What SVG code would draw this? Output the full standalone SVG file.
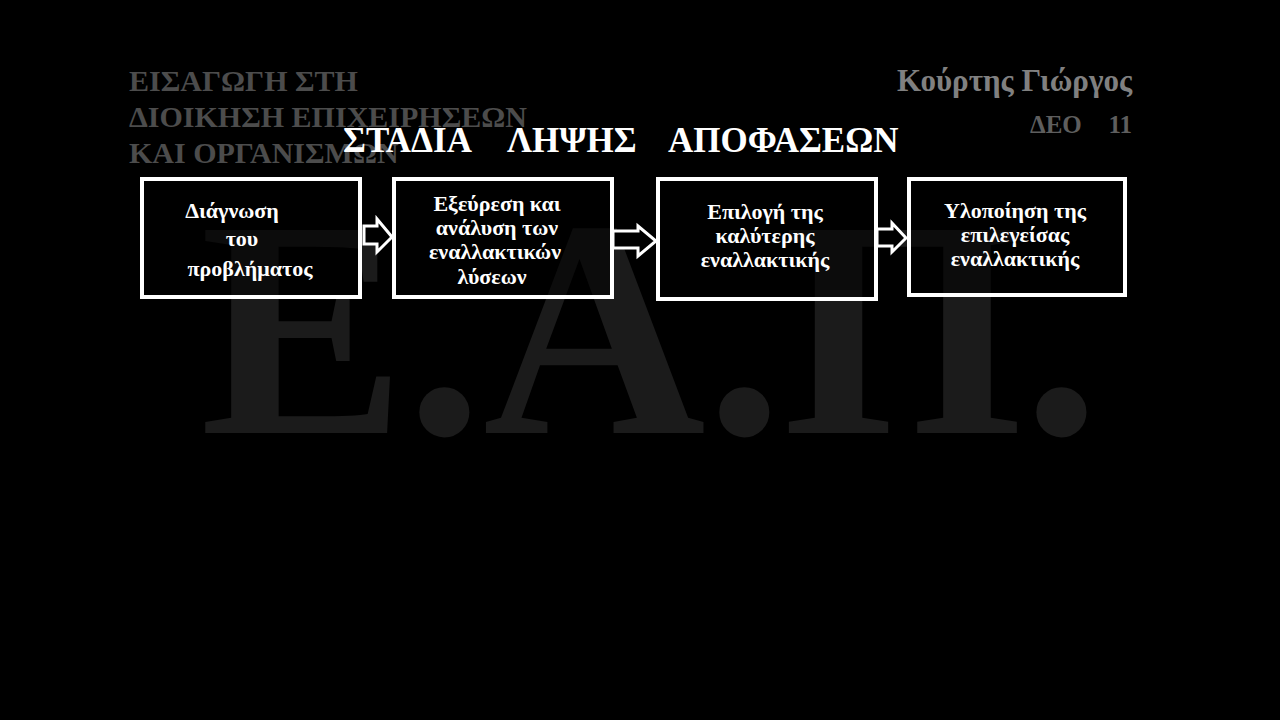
<svg xmlns="http://www.w3.org/2000/svg" width="1280" height="720" viewBox="0 0 1280 720">
<style>
.hdr{font-family:"Liberation Serif","Times New Roman",serif;font-weight:bold;fill:#4c4c4c;font-size:30px}
.auth{font-family:"Liberation Serif","Times New Roman",serif;font-weight:bold;fill:#808080}
.dim{fill:#5e5e5e}
.title{font-family:"Liberation Serif","Times New Roman",serif;font-weight:bold;fill:#ffffff;font-size:35px}
.box{fill:#000;fill-opacity:0.55;stroke:#fff;stroke-width:4}
.lbl{font-family:"Liberation Serif","Times New Roman",serif;font-weight:bold;fill:#fff;font-size:22px;text-anchor:middle}
.arr{fill:#000;stroke:#fff;stroke-width:3;stroke-linejoin:miter}
.wm{font-family:"Liberation Serif","Times New Roman",serif;font-weight:bold;fill:#1b1b1b;font-size:310px}
</style>
<rect width="1280" height="720" fill="#000"/>
<text class="wm" x="200" y="433" textLength="900" lengthAdjust="spacingAndGlyphs">Ε.Α.Π.</text>
<g id="header">
<text class="hdr" x="129" y="91">ΕΙΣΑΓΩΓΗ ΣΤΗ</text>
<text class="hdr" x="129" y="127">ΔΙΟΙΚΗΣΗ ΕΠΙΧΕΙΡΗΣΕΩΝ</text>
<text class="hdr" x="129" y="163">ΚΑΙ ΟΡΓΑΝΙΣΜΩΝ</text>
<text class="auth" x="1132" y="91" font-size="31" text-anchor="end">Κούρτης Γιώργος</text>
<text class="auth dim" x="1030" y="133" font-size="25">ΔΕΟ</text>
<text class="auth dim" x="1132" y="133" font-size="25" text-anchor="end">11</text>
</g>
<g id="title">
<text class="title" x="343" y="152">ΣΤΑΔΙΑ</text>
<text class="title" x="507" y="152">ΛΗΨΗΣ</text>
<text class="title" x="668" y="152">ΑΠΟΦΑΣΕΩΝ</text>
</g>
<g id="connectors">
<polygon class="arr" points="364,226 377,226 377,219 392,237 377,252 377,244 364,244"/>
<polygon class="arr" points="613,231 638,231 638,226 656,241 638,256 638,248 613,248"/>
<polygon class="arr" points="877,229 892,229 892,223 906,238 892,252 892,246 877,246"/>
</g>
<g id="node1">
<rect class="box" x="142" y="179" width="218" height="118"/>
<text class="lbl" x="232" y="218">Διάγνωση</text>
<text class="lbl" x="242" y="246">του</text>
<text class="lbl" x="250" y="276">προβλήματος</text>
</g>
<g id="node2">
<rect class="box" x="394" y="179" width="218" height="118"/>
<text class="lbl" x="497" y="211">Εξεύρεση και</text>
<text class="lbl" x="497" y="235">ανάλυση των</text>
<text class="lbl" x="495" y="259">εναλλακτικών</text>
<text class="lbl" x="492" y="284">λύσεων</text>
</g>
<g id="node3">
<rect class="box" x="658" y="179" width="218" height="120"/>
<text class="lbl" x="765" y="219">Επιλογή της</text>
<text class="lbl" x="765" y="243">καλύτερης</text>
<text class="lbl" x="765" y="267">εναλλακτικής</text>
</g>
<g id="node4">
<rect class="box" x="909" y="179" width="216" height="116"/>
<text class="lbl" x="1015" y="218">Υλοποίηση της</text>
<text class="lbl" x="1015" y="242">επιλεγείσας</text>
<text class="lbl" x="1015" y="266">εναλλακτικής</text>
</g>
</svg>
